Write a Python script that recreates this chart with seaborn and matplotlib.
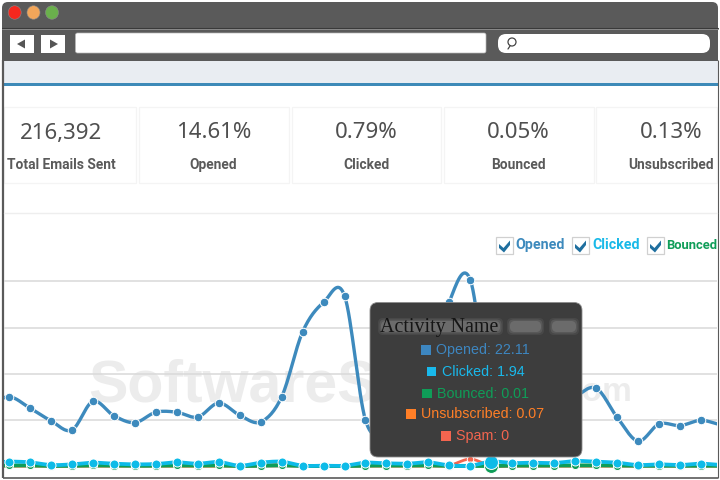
import numpy as np
import pandas as pd
import matplotlib
matplotlib.use("Agg")
import matplotlib.pyplot as plt
from matplotlib.patches import FancyBboxPatch, Rectangle, Ellipse, Polygon
import seaborn as sns

periods = list(range(-1, 35))
opened = [26, 30.0, 25.1, 19.6, 15.6, 28.0, 21.8, 18.8, 23.3, 23.3, 21.2, 27.3, 22.0, 19.1, 29.9, 58.1, 70.9, 73.8, 19.9,
          14, 18, 35, 71.2, 80.6, 22.11, 20, 22, 24, 30, 33.7, 21.1, 10.8, 18.2, 17.5, 19.8, 17.8]
clicked = [1.2, 1.88, 1.59, .43, .72, 1.44, 1.01, .72, .87, 1.59, 1.01, 1.73, .14, 1.44, 1.88, .14, .14, .14, 1.44,
           1.16, 1.01, 1.59, .29, .14, 1.94, 1.3, 1.44, 1.3, 2.17, 1.88, 1.44, .43, .72, .43, 1.01, .43]
bounced = [.2, .25, .25, .05, .1, .25, .2, .1, .15, .25, .2, .3, 0, .2, .3, 0, 0, 0, .2,
           .2, .2, .3, .05, .05, .01, .2, .2, .2, .25, .3, .2, .1, .15, .1, .15, .1]
unsubscribed = [.05, .05, .05, .05, .05, .05, .05, .05, .05, .05, .05, .05, 0, .05, .8, 0, 0, 0, .05,
                .05, .05, .05, .05, .05, .07, .05, .05, .05, .05, .05, .05, .05, .05, .05, .05, .05]
spam = [0] * 23 + [3.0, 0] + [0] * 11
spam[22] = 0.3

card_values = ["216,392", "14.61%", "0.79%", "0.05%", "0.13%"]
card_labels = ["Total Emails Sent", "Opened", "Clicked", "Bounced", "Unsubscribed"]
legend_labels = ["Opened", "Clicked", "Bounced"]
tooltip_rows = [("Opened: 22.11", "#3d86c0"), ("Clicked: 1.94", "#19b9ec"), ("Bounced: 0.01", "#0f9d58"),
                ("Unsubscribed: 0.07", "#ff7f27"), ("Spam: 0", "#f4654f")]
BLUE, CYAN, GREEN, ORANGE, RED = "#3d8abd", "#0dbbe8", "#0f9d58", "#f58a3c", "#f4654f"
hover_index = 24

sns.set_theme(style="white")
plt.rcParams["font.family"] = ["Roboto", "DejaVu Sans"]
fig = plt.figure(figsize=(7.2, 4.8), dpi=100, facecolor="white")


def overlay(z):
    a = fig.add_axes([0, 0, 1, 1], zorder=z)
    a.set_xlim(0, 720)
    a.set_ylim(480, 0)
    a.axis("off")
    a.patch.set_alpha(0)
    return a


def smooth(x, y, n=16):
    x, y = np.asarray(x, float), np.asarray(y, float)
    xs, ys = [], []
    for i in range(len(x) - 1):
        y0 = y[max(i - 1, 0)]
        y1, y2 = y[i], y[i + 1]
        y3 = y[min(i + 2, len(y) - 1)]
        for t in np.linspace(0, 1, n, endpoint=False):
            xs.append(x[i] + t * (x[i + 1] - x[i]))
            ys.append(0.5 * (2 * y1 + (y2 - y0) * t + (2 * y0 - 5 * y1 + 4 * y2 - y3) * t ** 2
                             + (3 * y1 - y0 - 3 * y2 + y3) * t ** 3))
    xs.append(x[-1])
    ys.append(y[-1])
    return xs, ys


# ---- back layer: browser chrome and dashboard
bg = overlay(0)
bg.add_patch(FancyBboxPatch((2, 2), 716, 70, boxstyle="round,pad=0,rounding_size=6", fc="#5a5a5a", ec="none"))
bg.add_patch(Rectangle((3, 61), 715, 22, fc="#e9edf2", ec="none"))
bg.add_patch(Rectangle((3, 83), 715, 3, fc="#3d8ab8", ec="none"))
bg.plot([2, 718], [27.5, 27.5], color="#3a3a3a", lw=0.8)
bg.plot([2, 718], [28.7, 28.7], color="#8a8a8a", lw=0.7)
for cx, c in zip([14.7, 33.5, 52], ["#f5281e", "#f2a65a", "#6ab04c"]):
    bg.add_patch(Ellipse((cx, 12.5), 13, 13.5, fc=c, ec="#8a8a8a", lw=0.4))
for x0 in [10, 41]:
    bg.add_patch(Rectangle((x0, 35), 24, 18, fc="white", ec="none"))
bg.add_patch(Polygon([[17, 44], [25, 39.5], [25, 48.5]], fc="#555555", ec="none"))
bg.add_patch(Polygon([[58, 44], [50, 39.5], [50, 48.5]], fc="#555555", ec="none"))
bg.add_patch(FancyBboxPatch((75.5, 33), 410.5, 20, boxstyle="round,pad=0,rounding_size=2", fc="white", ec="#b8b8b8", lw=0.5))
bg.add_patch(FancyBboxPatch((498, 34), 212, 19, boxstyle="round,pad=0,rounding_size=8", fc="white", ec="none"))
bg.add_patch(Ellipse((512, 42), 8, 8, fc="white", ec="#444444", lw=0.9))
bg.plot([510, 508], [46, 49], color="#444444", lw=0.9)

bg.plot([3, 3], [60, 478], color="#5a5a5a", lw=1.6, solid_capstyle="butt")
bg.plot([717.5, 717.5], [60, 478], color="#5a5a5a", lw=0.8, solid_capstyle="butt")
bg.plot([3, 718], [478, 478], color="#5a5a5a", lw=1.2, solid_capstyle="butt")

edges = [(4, 135.5), (139, 288.5), (291.5, 441), (444, 594), (596, 717)]
centers = [61, 213.5, 366, 518, 671]
for (a, b), cx, v, l in zip(edges, centers, card_values, card_labels):
    bg.add_patch(Rectangle((a, 106.5), b - a, 76, fc="white", ec="#f4f4f4", lw=0.9))
    bg.text(cx, 138.5, v, ha="center", va="baseline", fontsize=16, color="#4f4f4f", family=["Noto Sans", "DejaVu Sans"])
    bg.text(cx, 169, l, ha="center", va="baseline", fontsize=9.9, fontweight="bold", color="#5a5a5a")
bg.plot([4, 717], [213, 213], color="#eeeeee", lw=1)

bg.text(88, 401, "SoftwareS", ha="left", va="baseline", fontsize=42.5, fontweight="bold", color="#ececec",
        family=["Liberation Sans", "DejaVu Sans"])
bg.text(633, 401, ".com", ha="right", va="baseline", fontsize=24, fontweight="bold", color="#ececec",
        family=["Liberation Sans", "DejaVu Sans"])

for x0, tx, lab, c, fs in zip([496, 572, 647], [515, 592, 666], legend_labels, [BLUE, "#19b9e8", GREEN], [10.2, 10.2, 9.4]):
    bg.add_patch(Rectangle((x0, 237), 17, 17, fc="white", ec="#d0d0d0", lw=0.9))
    bg.add_patch(Polygon([[x0 + 3, 244], [x0 + 7.5, 248], [x0 + 14, 240.5], [x0 + 14, 245],
                          [x0 + 8, 252.5], [x0 + 3, 248]], fc="#1f6f9f", ec="none"))
    bg.text(tx, 249, lab, ha="left", va="baseline", fontsize=fs, fontweight="bold", color=c)

# ---- chart
px_x0, px_dx, px_y0, px_unit = 9.0, 20.97, 466.0, 2.3077
left, right, bottom, top = 4, 717, 477, 270
ax = fig.add_axes([left / 720, 1 - bottom / 480, (right - left) / 720, (bottom - top) / 480], zorder=1)
ax.patch.set_alpha(0)
ax.set_xlim((left - px_x0) / px_dx, (right - px_x0) / px_dx)
ax.set_ylim((px_y0 - bottom) / px_unit, (px_y0 - top) / px_unit)
ax.set_yticks([20, 40, 60, 80])
ax.set_xticks([])
ax.set_yticklabels([])
ax.grid(True, axis="y", color="#d9d9d9", lw=1.1)
ax.set_axisbelow(True)
for s in ax.spines.values():
    s.set_visible(False)

series = [(spam, RED, 2.0, 22), (unsubscribed, ORANGE, 2.2, 12), (opened, BLUE, 2.4, 38),
          (bounced, GREEN, 2.8, 34), (clicked, CYAN, 2.7, 42)]
for vals, col, lw, size in series:
    sx, sy = smooth(periods, vals)
    sns.lineplot(x=sx, y=sy, color=col, lw=lw, ax=ax, estimator=None, sort=False, legend=False)
    sns.scatterplot(x=periods, y=vals, color=col, s=size, edgecolor="white", linewidth=0.7, ax=ax, legend=False,
                    zorder=3)
    if vals is bounced or vals is clicked:
        sns.scatterplot(x=[periods[hover_index]], y=[vals[hover_index]], color=col, s=100, edgecolor="white",
                        linewidth=0.7, ax=ax, legend=False, zorder=4)
ax.set_xlabel("")
ax.set_ylabel("")

# ---- tooltip
fg = overlay(2)
fg.add_patch(FancyBboxPatch((370, 302.5), 212, 154.5, boxstyle="round,pad=0,rounding_size=8", fc="#3d3d3d",
                            ec="#8c8c8c", lw=0.6))
for (x0, w) in [(381, 119), (510, 31), (552, 24)]:
    for grow, alpha in [(3, .15), (1.5, .25), (0, .4)]:
        fg.add_patch(FancyBboxPatch((x0 - grow, 321 - grow), w + 2 * grow, 11 + 2 * grow,
                                    boxstyle="round,pad=0,rounding_size=5", fc="#8a8a8a", ec="none", alpha=alpha))
fg.text(380.5, 332, "Activity Name", ha="left", va="baseline", fontsize=14.4, color="#151515",
        family=["Liberation Serif", "DejaVu Serif"])
ys = [350, 371.5, 393.5, 414, 436]
for (txt, col), y in zip(tooltip_rows, ys):
    t = fg.text(483, y, txt, ha="center", va="center", fontsize=10.3, color=col,
                family=["Liberation Sans", "DejaVu Sans"])
    fig.canvas.draw()
    bb = t.get_window_extent()
    fg.add_patch(Rectangle((bb.x0 - 15, y - 5), 9.5, 9.5, fc=col, ec="none"))

fig.savefig("out.png", dpi=100)
